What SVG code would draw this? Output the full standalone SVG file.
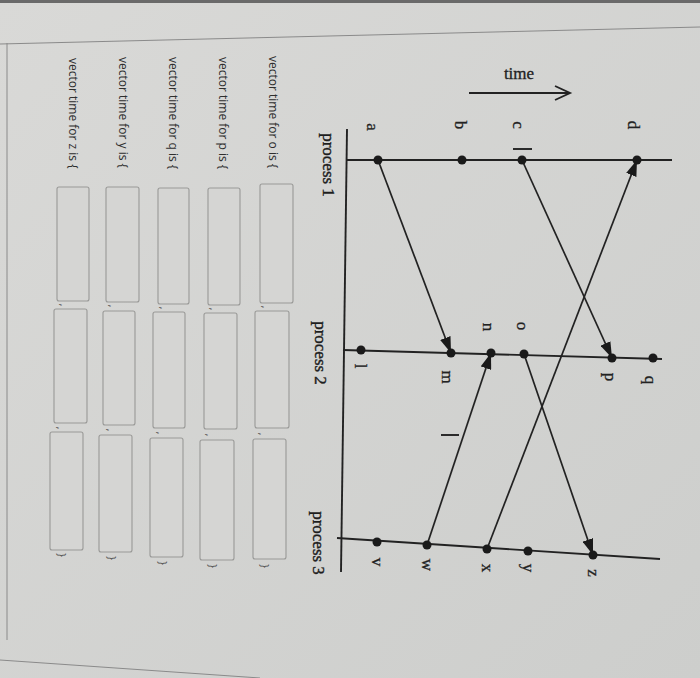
<svg xmlns="http://www.w3.org/2000/svg" width="700" height="678" viewBox="0 0 700 678">
<defs>
<linearGradient id="bg" x1="0" y1="0" x2="1" y2="1">
<stop offset="0" stop-color="#d9d9d7"/>
<stop offset="1" stop-color="#cdcecc"/>
</linearGradient>
<marker id="ah" viewBox="0 0 16 11" refX="16" refY="5.5" markerWidth="16" markerHeight="11" markerUnits="userSpaceOnUse" orient="auto">
<path d="M0,0 L16,5.5 L0,11 Z" fill="#1a1a1a"/>
</marker>
</defs>
<style>
.ln{stroke:#222;stroke-width:1.9;fill:none}
.msg{stroke:#222;stroke-width:1.7;fill:none;marker-end:url(#ah)}
.dot{fill:#1a1a1a}
.lbl{font-family:"Liberation Serif","DejaVu Serif",serif;font-size:17px;fill:#222;text-anchor:middle;dominant-baseline:central;stroke:#222;stroke-width:0.3}
.proc{font-family:"Liberation Serif","DejaVu Serif",serif;font-size:17px;fill:#1e1e1e;text-anchor:middle;dominant-baseline:central;stroke:#1e1e1e;stroke-width:0.4}
.form{font-family:"Open Sans","Liberation Sans",sans-serif;font-size:12px;fill:#2e2e2e;dominant-baseline:central}
.sm{font-family:"Open Sans","Liberation Sans",sans-serif;font-size:10px;fill:#444;text-anchor:middle;dominant-baseline:central}
.box{fill:#d5d5d3;stroke:#999997;stroke-width:1.1}
</style>
<rect x="0" y="0" width="700" height="678" fill="url(#bg)"/>
<rect x="0" y="0" width="700" height="3" fill="#6a6a6a"/>
<g id="page">
<line x1="0" y1="44" x2="700" y2="27" stroke="#8a8a8a" stroke-width="1"/>
<line x1="7" y1="43" x2="7" y2="640" stroke="#8a8a8a" stroke-width="1"/>
<line x1="0" y1="660" x2="260" y2="678" stroke="#8a8a8a" stroke-width="1"/>
</g>

<g id="time-axis">
<text x="519" y="73" font-family="Liberation Serif, DejaVu Serif, serif" font-size="17" fill="#222" stroke="#222" stroke-width="0.3" text-anchor="middle" dominant-baseline="central">time</text>
<line x1="469" y1="93" x2="570" y2="93" class="ln" stroke-width="1.5"/>
<polyline points="555,86 570,93 555,100" class="ln" stroke-width="1.5"/>
</g>

<g id="process-lines">
<line id="axis" x1="347" y1="129" x2="341" y2="572" class="ln"/>
<line id="p1-line" x1="347" y1="160" x2="672" y2="160" class="ln"/>
<line id="p2-line" x1="343" y1="350" x2="662" y2="359" class="ln"/>
<line id="p3-line" x1="337" y1="538" x2="660" y2="559" class="ln"/>
<line x1="513" y1="149" x2="532" y2="149" class="ln" stroke-width="1.4"/>
<line x1="441" y1="435" x2="459" y2="435" class="ln" stroke-width="1.2"/>
<text class="proc" transform="translate(328,165) rotate(90)">process 1</text>
<text class="proc" transform="translate(320,353) rotate(90)">process 2</text>
<text class="proc" transform="translate(318,543) rotate(90)">process 3</text>
</g>

<g id="connectors">
<line class="msg" x1="378" y1="160" x2="451" y2="353"/>
<line class="msg" x1="522" y1="160" x2="612" y2="358"/>
<line class="msg" x1="427" y1="545" x2="491" y2="353"/>
<line class="msg" x1="487" y1="549" x2="637" y2="160"/>
<line class="msg" x1="524" y1="354" x2="593" y2="555"/>
</g>

<g id="event-a"><circle class="dot" cx="378" cy="160" r="4.5"/><text class="lbl" transform="translate(372,127) rotate(90)">a</text></g>
<g id="event-b"><circle class="dot" cx="462" cy="160" r="4.5"/><text class="lbl" transform="translate(460,125) rotate(90)">b</text></g>
<g id="event-c"><circle class="dot" cx="522" cy="160" r="4.5"/><text class="lbl" transform="translate(518,125) rotate(90)">c</text></g>
<g id="event-d"><circle class="dot" cx="637" cy="160" r="4.5"/><text class="lbl" transform="translate(633,125) rotate(90)">d</text></g>

<g id="event-l"><circle class="dot" cx="361" cy="350" r="4.5"/><text class="lbl" transform="translate(360,366) rotate(90)">l</text></g>
<g id="event-m"><circle class="dot" cx="451" cy="353" r="4.5"/><text class="lbl" transform="translate(447,377) rotate(90)">m</text></g>
<g id="event-n"><circle class="dot" cx="491" cy="353" r="4.5"/><text class="lbl" transform="translate(488,327) rotate(90)">n</text></g>
<g id="event-o"><circle class="dot" cx="524" cy="354" r="4.5"/><text class="lbl" transform="translate(522,326) rotate(90)">o</text></g>
<g id="event-p"><circle class="dot" cx="612" cy="358" r="4.5"/><text class="lbl" transform="translate(610,377) rotate(90)">p</text></g>
<g id="event-q"><circle class="dot" cx="653" cy="358" r="4.5"/><text class="lbl" transform="translate(650,380) rotate(90)">q</text></g>

<g id="event-v"><circle class="dot" cx="377" cy="542" r="4.5"/><text class="lbl" transform="translate(377,562) rotate(90)">v</text></g>
<g id="event-w"><circle class="dot" cx="427" cy="545" r="4.5"/><text class="lbl" transform="translate(427,565) rotate(90)">w</text></g>
<g id="event-x"><circle class="dot" cx="487" cy="549" r="4.5"/><text class="lbl" transform="translate(487,568) rotate(90)">x</text></g>
<g id="event-y"><circle class="dot" cx="528" cy="551" r="4.5"/><text class="lbl" transform="translate(528,568) rotate(90)">y</text></g>
<g id="event-z"><circle class="dot" cx="593" cy="555" r="4.5"/><text class="lbl" transform="translate(593,573) rotate(90)">z</text></g>

<g id="row-o">
<text class="form" transform="translate(273,56) rotate(90)">vector time for o is {</text>
<rect class="box" x="260" y="184" width="33" height="119" rx="2"/>
<text class="sm" transform="translate(266,307) rotate(90)">,</text>
<rect class="box" x="255" y="311" width="34" height="117" rx="2"/>
<text class="sm" transform="translate(263,434) rotate(90)">,</text>
<rect class="box" x="253" y="439" width="33" height="120" rx="2"/>
<text class="sm" transform="translate(265,566) rotate(90)">}</text>
</g>
<g id="row-p">
<text class="form" transform="translate(223,57) rotate(90)">vector time for p is {</text>
<rect class="box" x="208" y="188" width="32" height="117" rx="2"/>
<text class="sm" transform="translate(214,309) rotate(90)">,</text>
<rect class="box" x="204" y="313" width="33" height="116" rx="2"/>
<text class="sm" transform="translate(210,435) rotate(90)">,</text>
<rect class="box" x="200" y="440" width="34" height="120" rx="2"/>
<text class="sm" transform="translate(213,566) rotate(90)">}</text>
</g>
<g id="row-q">
<text class="form" transform="translate(173,57) rotate(90)">vector time for q is {</text>
<rect class="box" x="158" y="188" width="31" height="116" rx="2"/>
<text class="sm" transform="translate(164,308) rotate(90)">,</text>
<rect class="box" x="153" y="312" width="32" height="116" rx="2"/>
<text class="sm" transform="translate(161,433) rotate(90)">,</text>
<rect class="box" x="150" y="438" width="33" height="119" rx="2"/>
<text class="sm" transform="translate(163,563) rotate(90)">}</text>
</g>
<g id="row-y">
<text class="form" transform="translate(123,57) rotate(90)">vector time for y is {</text>
<rect class="box" x="106" y="187" width="33" height="115" rx="2"/>
<text class="sm" transform="translate(113,306) rotate(90)">,</text>
<rect class="box" x="103" y="311" width="32" height="114" rx="2"/>
<text class="sm" transform="translate(111,430) rotate(90)">,</text>
<rect class="box" x="99" y="435" width="33" height="117" rx="2"/>
<text class="sm" transform="translate(112,558) rotate(90)">}</text>
</g>
<g id="row-z">
<text class="form" transform="translate(73,58) rotate(90)">vector time for z is {</text>
<rect class="box" x="57" y="187" width="32" height="114" rx="2"/>
<text class="sm" transform="translate(64,305) rotate(90)">,</text>
<rect class="box" x="54" y="309" width="33" height="114" rx="2"/>
<text class="sm" transform="translate(61,428) rotate(90)">,</text>
<rect class="box" x="50" y="432" width="33" height="118" rx="2"/>
<text class="sm" transform="translate(62,555) rotate(90)">}</text>
</g>
</svg>
